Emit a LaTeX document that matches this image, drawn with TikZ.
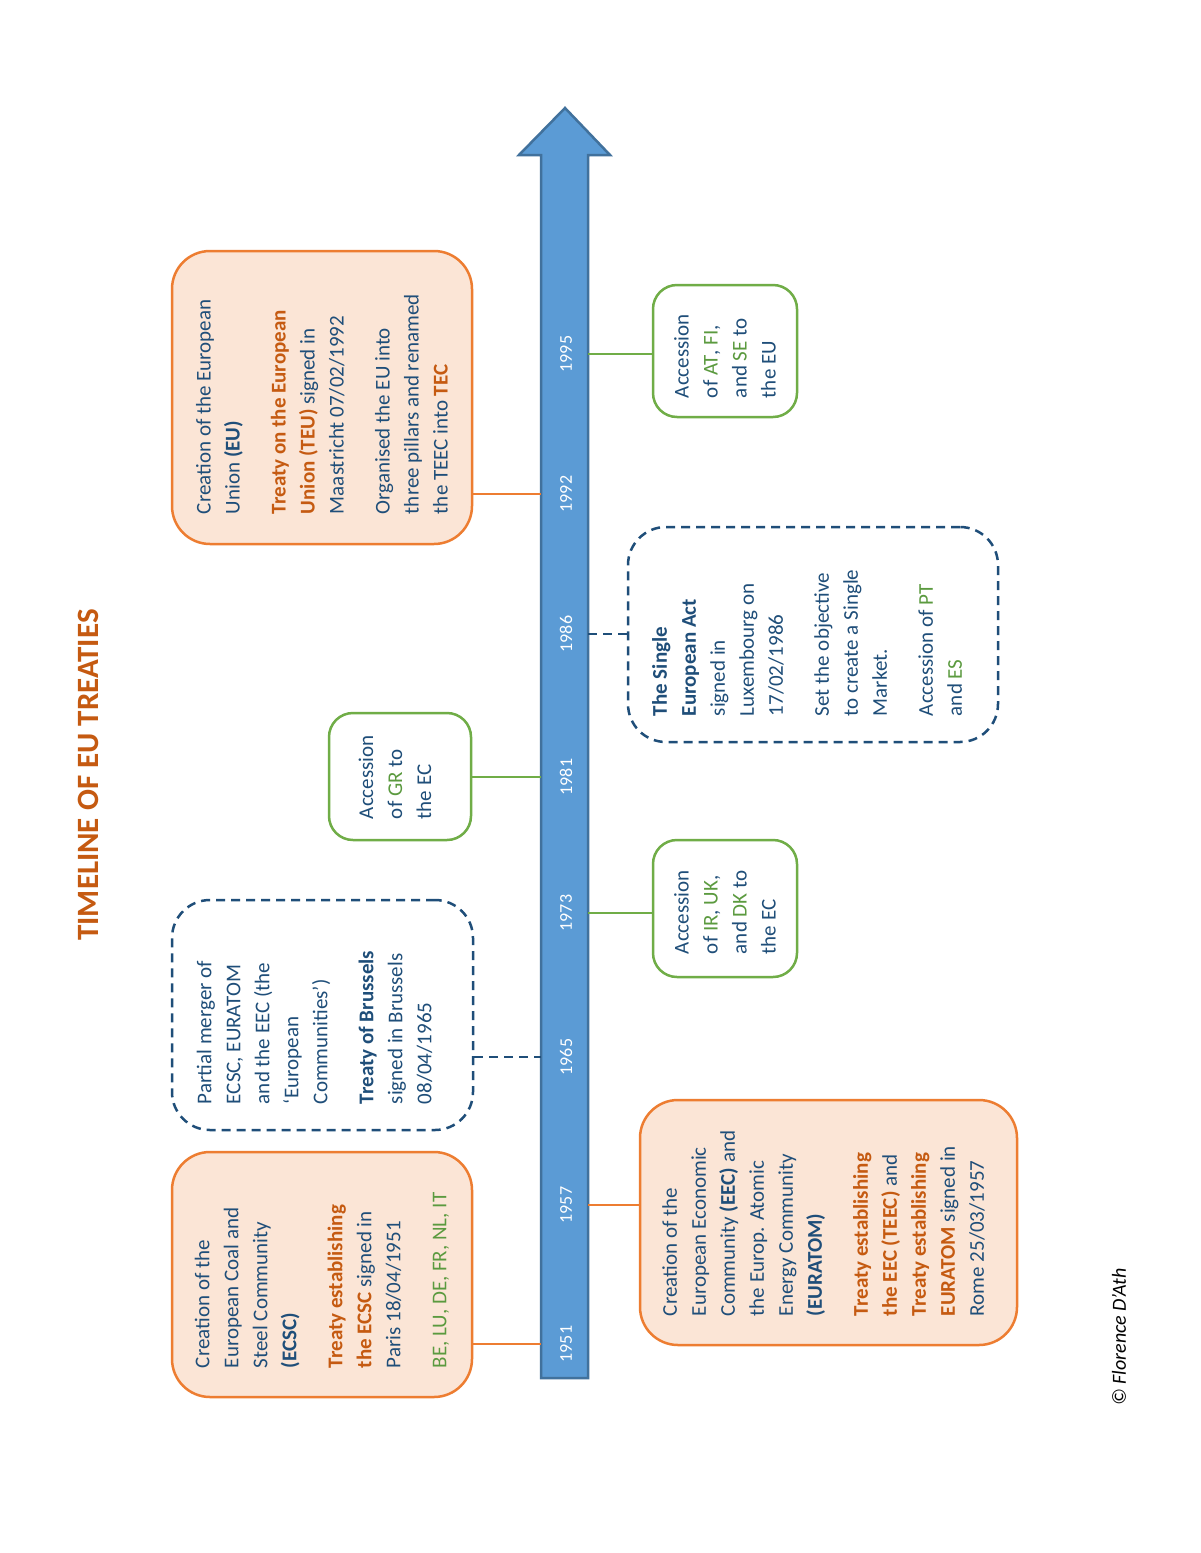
\documentclass[tikz,border=0pt]{standalone}
\usepackage{fontspec}
\setmainfont{Carlito}
\usepackage{xcolor}
\usepackage{tikz}

\definecolor{eunavy}{HTML}{1F4E79}
\definecolor{euorange}{HTML}{C55A11}
\definecolor{euorangeline}{HTML}{ED7D31}
\definecolor{eupeach}{HTML}{FBE5D6}
\definecolor{eugreen}{HTML}{70AD47}
\definecolor{eugreentext}{HTML}{5B9A3F}
\definecolor{eublue}{HTML}{5B9BD5}
\definecolor{eublueedge}{HTML}{41719C}

\newcommand{\trty}[1]{\textcolor{euorange}{\textbf{#1}}}
\newcommand{\ctry}[1]{\textcolor{eugreentext}{#1}}

\begin{document}
\begin{tikzpicture}[
  x=1pt, y=-1pt,
  treatybox/.style={draw=euorangeline, fill=eupeach, line width=2.5pt, rounded corners=38pt},
  mergerbox/.style={draw=eunavy, fill=white, line width=2.5pt, rounded corners=38pt, dash pattern=on 9pt off 6pt},
  accessbox/.style={draw=eugreen, fill=white, line width=2.5pt, rounded corners=24pt},
  boxtext/.style={rotate=90, anchor=west, align=left, inner sep=0pt, text=eunavy, font=\fontsize{21}{29}\selectfont},
  year/.style={rotate=90, text=white, inner sep=0pt, font=\fontsize{18}{20}\selectfont},
  treatyline/.style={draw=euorangeline, line width=2.5pt},
  accessline/.style={draw=eugreen, line width=2.5pt},
  mergerline/.style={draw=eunavy, line width=2.5pt, dash pattern=on 9pt off 6pt}
]
\fill[white] (0,0) rectangle (1200,1553);
\useasboundingbox (0,0) rectangle (1200,1553);

\node[rotate=90, text=euorange, font=\fontsize{31}{36}\selectfont\bfseries] (title) at (88,775) {TIMELINE OF EU TREATIES};

\filldraw[fill=eublue, draw=eublueedge, line width=2.5pt, line join=miter]
  (541,1378) -- (541,155) -- (519,155) -- (565,108) -- (610,155) -- (588,155) -- (588,1378) -- cycle;
\coordinate (shaftL) at (541,0);
\coordinate (shaftR) at (588,0);

\node[year] (yr1951) at (566,1344) {1951};
\node[year] (yr1957) at (566,1205) {1957};
\node[year] (yr1965) at (566,1057) {1965};
\node[year] (yr1973) at (566,913) {1973};
\node[year] (yr1981) at (566,777) {1981};
\node[year] (yr1986) at (566,634) {1986};
\node[year] (yr1992) at (566,494) {1992};
\node[year] (yr1995) at (566,354) {1995};

\node[treatybox, minimum width=300pt, minimum height=245pt] (ecsc) at (322,1274.5) {};
\node[mergerbox, minimum width=301pt, minimum height=230pt] (brussels) at (322.5,1015) {};
\node[treatybox, minimum width=377pt, minimum height=245pt] (rome) at (828.5,1222.5) {};
\node[accessbox, minimum width=142pt, minimum height=127pt] (gr) at (400,776.5) {};
\node[accessbox, minimum width=144pt, minimum height=137pt] (irukdk) at (725,908.5) {};
\node[mergerbox, minimum width=370pt, minimum height=215pt] (sea) at (813,634.5) {};
\node[treatybox, minimum width=300pt, minimum height=293pt] (teu) at (322,397.5) {};
\node[accessbox, minimum width=144pt, minimum height=132pt] (atfise) at (725,351) {};

\node[boxtext] (ecsctxt) at ([yshift=30pt]ecsc.south) {Creation of the\\European Coal and\\Steel Community\\\textbf{(ECSC)}\\[17pt]\trty{Treaty establishing}\\\trty{the ECSC} signed in\\Paris 18/04/1951\\[17pt]\ctry{BE, LU, DE, FR, NL, IT}};
\node[boxtext] (brusselstxt) at ([yshift=27pt, xshift=-8pt]brussels.south) {Partial merger of\\ECSC, EURATOM\\and the EEC (the\\‘European\\Communities’)\\[17pt]\textbf{Treaty of Brussels}\\signed in Brussels\\08/04/1965};
\node[boxtext] (rometxt) at ([yshift=30pt, xshift=-5pt]rome.south) {Creation of the\\European Economic\\Community \textbf{(EEC)} and\\the Europ. Atomic\\Energy Community\\\textbf{(EURATOM)}\\[17pt]\trty{Treaty establishing}\\\trty{the EEC (TEEC)} and\\\trty{Treaty establishing}\\\trty{EURATOM} signed in\\Rome 25/03/1957};
\node[boxtext] (grtxt) at ([yshift=22pt, xshift=-5pt]gr.south) {Accession\\of \ctry{GR} to\\the EC};
\node[boxtext] (irukdktxt) at ([yshift=24pt]irukdk.south) {Accession\\of \ctry{IR}, \ctry{UK},\\and \ctry{DK} to\\the EC};
\node[boxtext] (seatxt) at ([yshift=27pt, xshift=-6pt]sea.south) {\textbf{The Single}\\\textbf{European Act}\\signed in\\Luxembourg on\\17/02/1986\\[17pt]Set the objective\\to create a Single\\Market.\\[17pt]Accession of \ctry{PT}\\and \ctry{ES}};
\node[boxtext] (teutxt) at ([yshift=31pt]teu.south) {Creation of the European\\Union \textbf{(EU)}\\[17pt]\trty{Treaty on the European}\\\trty{Union (TEU)} signed in\\Maastricht 07/02/1992\\[17pt]Organised the EU into\\three pillars and renamed\\the TEEC into \trty{TEC}};
\node[boxtext] (atfisetxt) at ([yshift=20pt]atfise.south) {Accession\\of \ctry{AT}, \ctry{FI},\\and \ctry{SE} to\\the EU};

\draw[treatyline] (ecsc.east |- yr1951) -- (shaftL |- yr1951);
\draw[treatyline] (shaftR |- yr1957) -- (rome.west |- yr1957);
\draw[mergerline] (brussels.east |- yr1965) -- (shaftL |- yr1965);
\draw[accessline] (shaftR |- yr1973) -- (irukdk.west |- yr1973);
\draw[accessline] (gr.east |- yr1981) -- (shaftL |- yr1981);
\draw[mergerline] (shaftR |- yr1986) -- (sea.west |- yr1986);
\draw[treatyline] (teu.east |- yr1992) -- (shaftL |- yr1992);
\draw[accessline] (shaftR |- yr1995) -- (atfise.west |- yr1995);

\node[rotate=90, font=\fontsize{20}{24}\selectfont\itshape] (credit) at (1119,1337) {© Florence D’Ath};
\end{tikzpicture}
\end{document}
